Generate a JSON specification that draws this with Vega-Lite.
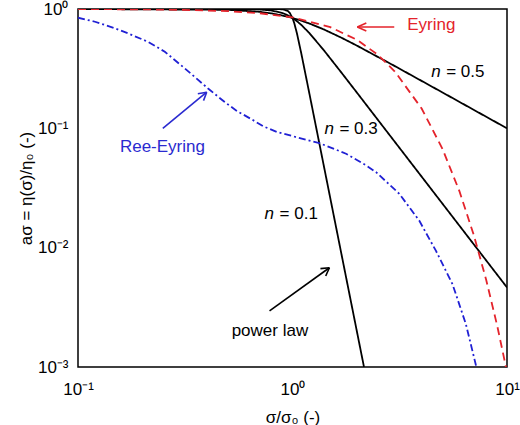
{
  "$schema": "https://vega.github.io/schema/vega-lite/v6.json",
  "width": 429,
  "height": 358,
  "autosize": {"type": "none"},
  "padding": {"left": 78, "top": 9, "right": 13, "bottom": 58},
  "datasets": {
    "curves": [
      {"s": "n05", "x": 0.1, "y": 1},
      {"s": "n05", "x": 0.5, "y": 0.985},
      {"s": "n05", "x": 0.7, "y": 0.9476},
      {"s": "n05", "x": 0.8, "y": 0.9178},
      {"s": "n05", "x": 0.9, "y": 0.8815},
      {"s": "n05", "x": 1.0, "y": 0.8409},
      {"s": "n05", "x": 1.1, "y": 0.7981},
      {"s": "n05", "x": 1.2, "y": 0.7553},
      {"s": "n05", "x": 1.4, "y": 0.6742},
      {"s": "n05", "x": 1.7, "y": 0.5718},
      {"s": "n05", "x": 2, "y": 0.4925},
      {"s": "n05", "x": 3, "y": 0.3323},
      {"s": "n05", "x": 5, "y": 0.1999},
      {"s": "n05", "x": 10, "y": 0.1},
      {"s": "n03", "x": 0.1, "y": 1},
      {"s": "n03", "x": 0.5, "y": 0.9996},
      {"s": "n03", "x": 0.7, "y": 0.9912},
      {"s": "n03", "x": 0.8, "y": 0.9711},
      {"s": "n03", "x": 0.9, "y": 0.9237},
      {"s": "n03", "x": 0.95, "y": 0.8864},
      {"s": "n03", "x": 1.0, "y": 0.8409},
      {"s": "n03", "x": 1.05, "y": 0.7893},
      {"s": "n03", "x": 1.1, "y": 0.7346},
      {"s": "n03", "x": 1.2, "y": 0.6267},
      {"s": "n03", "x": 1.4, "y": 0.4513},
      {"s": "n03", "x": 1.7, "y": 0.2894},
      {"s": "n03", "x": 2, "y": 0.1984},
      {"s": "n03", "x": 3, "y": 0.077},
      {"s": "n03", "x": 5, "y": 0.02339},
      {"s": "n03", "x": 10, "y": 0.004642},
      {"s": "n01", "x": 0.1, "y": 1},
      {"s": "n01", "x": 0.8, "y": 0.9999},
      {"s": "n01", "x": 0.9, "y": 0.9944},
      {"s": "n01", "x": 0.95, "y": 0.964},
      {"s": "n01", "x": 0.97, "y": 0.9305},
      {"s": "n01", "x": 1.0, "y": 0.8409},
      {"s": "n01", "x": 1.02, "y": 0.7573},
      {"s": "n01", "x": 1.05, "y": 0.6195},
      {"s": "n01", "x": 1.1, "y": 0.4208},
      {"s": "n01", "x": 1.2, "y": 0.1937},
      {"s": "n01", "x": 1.5, "y": 0.02601},
      {"s": "n01", "x": 2.1544, "y": 0.001},
      {"s": "eyring", "x": 0.1, "y": 0.99834},
      {"s": "eyring", "x": 0.2, "y": 0.99336},
      {"s": "eyring", "x": 0.3, "y": 0.98515},
      {"s": "eyring", "x": 0.5, "y": 0.95952},
      {"s": "eyring", "x": 0.7, "y": 0.92277},
      {"s": "eyring", "x": 1.0, "y": 0.85092},
      {"s": "eyring", "x": 1.5, "y": 0.70446},
      {"s": "eyring", "x": 2, "y": 0.55144},
      {"s": "eyring", "x": 2.5, "y": 0.41321},
      {"s": "eyring", "x": 3, "y": 0.29946},
      {"s": "eyring", "x": 4, "y": 0.14658},
      {"s": "eyring", "x": 5, "y": 0.067383},
      {"s": "eyring", "x": 6, "y": 0.029745},
      {"s": "eyring", "x": 7, "y": 0.012766},
      {"s": "eyring", "x": 8, "y": 0.0053674},
      {"s": "eyring", "x": 9, "y": 0.0022214},
      {"s": "eyring", "x": 10, "y": 0.000908},
      {"s": "ree", "x": 0.1, "y": 0.845},
      {"s": "ree", "x": 0.12, "y": 0.782},
      {"s": "ree", "x": 0.149, "y": 0.688},
      {"s": "ree", "x": 0.171, "y": 0.625},
      {"s": "ree", "x": 0.212, "y": 0.531},
      {"s": "ree", "x": 0.254, "y": 0.438},
      {"s": "ree", "x": 0.315, "y": 0.3175},
      {"s": "ree", "x": 0.404, "y": 0.2157},
      {"s": "ree", "x": 0.483, "y": 0.166},
      {"s": "ree", "x": 0.55, "y": 0.14},
      {"s": "ree", "x": 0.65, "y": 0.118},
      {"s": "ree", "x": 0.73, "y": 0.104},
      {"s": "ree", "x": 0.85, "y": 0.093},
      {"s": "ree", "x": 1.04, "y": 0.0845},
      {"s": "ree", "x": 1.335, "y": 0.0752},
      {"s": "ree", "x": 1.777, "y": 0.0613},
      {"s": "ree", "x": 2.2, "y": 0.049},
      {"s": "ree", "x": 2.449, "y": 0.043},
      {"s": "ree", "x": 3.146, "y": 0.0283},
      {"s": "ree", "x": 3.898, "y": 0.01686},
      {"s": "ree", "x": 4.66, "y": 0.00944},
      {"s": "ree", "x": 5.57, "y": 0.00495},
      {"s": "ree", "x": 6.43, "y": 0.00229},
      {"s": "ree", "x": 7.15, "y": 0.00105},
      {"s": "ree", "x": 7.3, "y": 0.00085}
    ],
    "nlabels": [
      {"x": 4.43, "y": 0.2955, "rest": "= 0.5"},
      {"x": 1.409, "y": 0.0981, "rest": "= 0.3"},
      {"x": 0.741, "y": 0.0193, "rest": "= 0.1"}
    ],
    "models": [
      {"x": 3.427, "y": 0.734, "label": "Eyring"},
      {"x": 0.1568, "y": 0.0692, "label": "Ree-Eyring"},
      {"x": 0.5203, "y": 0.00201, "label": "power law"}
    ],
    "arrows": [
      {"label": "Eyring", "x": 2.981, "y": 0.7059, "x2": 2.006, "y2": 0.7059},
      {"label": "Eyring", "x": 2.006, "y": 0.7059, "x2": 2.209, "y2": 0.7627},
      {"label": "Eyring", "x": 2.006, "y": 0.7059, "x2": 2.209, "y2": 0.6534},
      {"label": "Ree-Eyring", "x": 0.2485, "y": 0.1, "x2": 0.398, "y2": 0.2007},
      {"label": "Ree-Eyring", "x": 0.398, "y": 0.2007, "x2": 0.362, "y2": 0.195},
      {"label": "Ree-Eyring", "x": 0.398, "y": 0.2007, "x2": 0.3847, "y2": 0.1706},
      {"label": "power law", "x": 0.7816, "y": 0.002956, "x2": 1.486, "y2": 0.00679},
      {"label": "power law", "x": 1.486, "y": 0.00679, "x2": 1.35, "y2": 0.00667},
      {"label": "power law", "x": 1.486, "y": 0.00679, "x2": 1.4285, "y2": 0.00579}
    ],
    "xticks": [
      {"v": 0.1, "kind": "major"}, {"v": 0.2, "kind": "minor"}, {"v": 0.3, "kind": "minor"}, {"v": 0.4, "kind": "minor"},
      {"v": 0.5, "kind": "minor"}, {"v": 0.6, "kind": "minor"}, {"v": 0.7, "kind": "minor"}, {"v": 0.8, "kind": "minor"},
      {"v": 0.9, "kind": "minor"}, {"v": 1, "kind": "major"}, {"v": 2, "kind": "minor"}, {"v": 3, "kind": "minor"},
      {"v": 4, "kind": "minor"}, {"v": 5, "kind": "minor"}, {"v": 6, "kind": "minor"}, {"v": 7, "kind": "minor"},
      {"v": 8, "kind": "minor"}, {"v": 9, "kind": "minor"}, {"v": 10, "kind": "major"}
    ],
    "yticks": [
      {"v": 0.001, "kind": "major"}, {"v": 0.002, "kind": "minor"}, {"v": 0.003, "kind": "minor"}, {"v": 0.004, "kind": "minor"},
      {"v": 0.005, "kind": "minor"}, {"v": 0.006, "kind": "minor"}, {"v": 0.007, "kind": "minor"}, {"v": 0.008, "kind": "minor"},
      {"v": 0.009, "kind": "minor"}, {"v": 0.01, "kind": "major"}, {"v": 0.02, "kind": "minor"}, {"v": 0.03, "kind": "minor"},
      {"v": 0.04, "kind": "minor"}, {"v": 0.05, "kind": "minor"}, {"v": 0.06, "kind": "minor"}, {"v": 0.07, "kind": "minor"},
      {"v": 0.08, "kind": "minor"}, {"v": 0.09, "kind": "minor"}, {"v": 0.1, "kind": "major"}, {"v": 0.2, "kind": "minor"},
      {"v": 0.3, "kind": "minor"}, {"v": 0.4, "kind": "minor"}, {"v": 0.5, "kind": "minor"}, {"v": 0.6, "kind": "minor"},
      {"v": 0.7, "kind": "minor"}, {"v": 0.8, "kind": "minor"}, {"v": 0.9, "kind": "minor"}, {"v": 1, "kind": "major"}
    ]
  },
  "config": {
    "view": {"stroke": "black", "strokeWidth": 1.5},
    "axis": {"grid": false, "domain": false, "ticks": false, "labelFontSize": 17, "labelFlush": false, "labelOverlap": false, "labelBound": false}
  },
  "resolve": {
    "scale": {"color": "independent"}
  },
  "encoding": {
    "x": {
      "field": "x", "type": "quantitative",
      "scale": {"type": "log", "domain": [0.1, 10], "nice": false},
      "axis": {
        "orient": "bottom",
        "values": [0.1, 1, 10],
        "labelExpr": "abs(datum.value-0.1)<1e-9 ? '10⁻¹' : abs(datum.value-1)<1e-9 ? '10⁰' : abs(datum.value-10)<1e-9 ? '10¹' : ''",
        "ticks": false,
        "labelPadding": 14,
        "labelFont": "Liberation Sans",
        "labelColor": "black",
        "title": "σ/σ₀ (-)",
        "titleFont": "Liberation Sans",
        "titleFontSize": 17,
        "titleFontWeight": "normal",
        "titleColor": "black",
        "titlePadding": 12
      }
    },
    "y": {
      "field": "y", "type": "quantitative",
      "scale": {"type": "log", "domain": [0.001, 1], "nice": false},
      "axis": {
        "orient": "left",
        "values": [0.001, 0.01, 0.1, 1],
        "labelExpr": "abs(datum.value-0.001)<1e-9 ? '10⁻³' : abs(datum.value-0.01)<1e-9 ? '10⁻²' : abs(datum.value-0.1)<1e-9 ? '10⁻¹' : abs(datum.value-1)<1e-9 ? '10⁰' : ''",
        "ticks": false,
        "labelPadding": 10,
        "labelFont": "Liberation Sans",
        "labelColor": "black",
        "title": "aσ = η(σ)/η₀ (-)",
        "titleFont": "Liberation Sans",
        "titleFontSize": 17,
        "titleFontWeight": "normal",
        "titleColor": "black",
        "titlePadding": 2
      }
    }
  },
  "layer": [
    {
      "data": {"name": "curves"},
      "mark": {"type": "line", "strokeWidth": 1.8, "clip": true},
      "encoding": {
        "color": {
          "field": "s", "type": "nominal",
          "scale": {"domain": ["n05", "n03", "n01", "eyring", "ree"], "range": ["#000000", "#000000", "#000000", "#e4232b", "#2020d4"]},
          "legend": null
        },
        "strokeDash": {
          "field": "s", "type": "nominal",
          "scale": {"domain": ["n05", "n03", "n01", "eyring", "ree"], "range": [[1, 0], [1, 0], [1, 0], [8, 5], [7, 3, 2, 3]]},
          "legend": null
        }
      }
    },
    {
      "data": {"name": "models"},
      "mark": {"type": "text", "align": "left", "baseline": "middle", "fontSize": 17, "font": "Liberation Sans"},
      "encoding": {
        "text": {"field": "label"},
        "color": {
          "field": "label", "type": "nominal",
          "scale": {"domain": ["Eyring", "Ree-Eyring", "power law"], "range": ["#e4232b", "#2a2ad0", "#000000"]},
          "legend": null
        }
      }
    },
    {
      "data": {"name": "arrows"},
      "mark": {"type": "rule", "strokeWidth": 1.6},
      "encoding": {
        "x2": {"field": "x2"},
        "y2": {"field": "y2"},
        "color": {
          "field": "label", "type": "nominal",
          "scale": {"domain": ["Eyring", "Ree-Eyring", "power law"], "range": ["#e4232b", "#2a2ad0", "#000000"]},
          "legend": null
        }
      }
    },
    {
      "data": {"name": "nlabels"},
      "mark": {"type": "text", "align": "left", "baseline": "middle", "fontStyle": "italic", "fontSize": 17, "font": "Liberation Sans", "color": "black"},
      "encoding": {"text": {"value": "n"}}
    },
    {
      "data": {"name": "nlabels"},
      "mark": {"type": "text", "align": "left", "baseline": "middle", "dx": 15, "fontSize": 17, "font": "Liberation Sans", "color": "black"},
      "encoding": {"text": {"field": "rest"}}
    },
    {
      "data": {"name": "xticks"},
      "mark": {"type": "tick", "orient": "vertical", "thickness": 1.3, "color": "black", "opacity": 1, "clip": true},
      "encoding": {
        "x": {"field": "v", "type": "quantitative"},
        "y": {"datum": 0.001, "type": "quantitative"},
        "size": {"field": "kind", "type": "ordinal", "scale": {"domain": ["major", "minor"], "range": [18, 10]}, "legend": null}
      }
    },
    {
      "data": {"name": "xticks"},
      "mark": {"type": "tick", "orient": "vertical", "thickness": 1.3, "color": "black", "opacity": 1, "clip": true},
      "encoding": {
        "x": {"field": "v", "type": "quantitative"},
        "y": {"datum": 1, "type": "quantitative"},
        "size": {"field": "kind", "type": "ordinal", "scale": {"domain": ["major", "minor"], "range": [18, 10]}, "legend": null}
      }
    },
    {
      "data": {"name": "yticks"},
      "mark": {"type": "tick", "orient": "horizontal", "thickness": 1.3, "color": "black", "opacity": 1, "clip": true},
      "encoding": {
        "y": {"field": "v", "type": "quantitative"},
        "x": {"datum": 0.1, "type": "quantitative"},
        "size": {"field": "kind", "type": "ordinal", "scale": {"domain": ["major", "minor"], "range": [18, 10]}, "legend": null}
      }
    },
    {
      "data": {"name": "yticks"},
      "mark": {"type": "tick", "orient": "horizontal", "thickness": 1.3, "color": "black", "opacity": 1, "clip": true},
      "encoding": {
        "y": {"field": "v", "type": "quantitative"},
        "x": {"datum": 10, "type": "quantitative"},
        "size": {"field": "kind", "type": "ordinal", "scale": {"domain": ["major", "minor"], "range": [18, 10]}, "legend": null}
      }
    }
  ]
}
